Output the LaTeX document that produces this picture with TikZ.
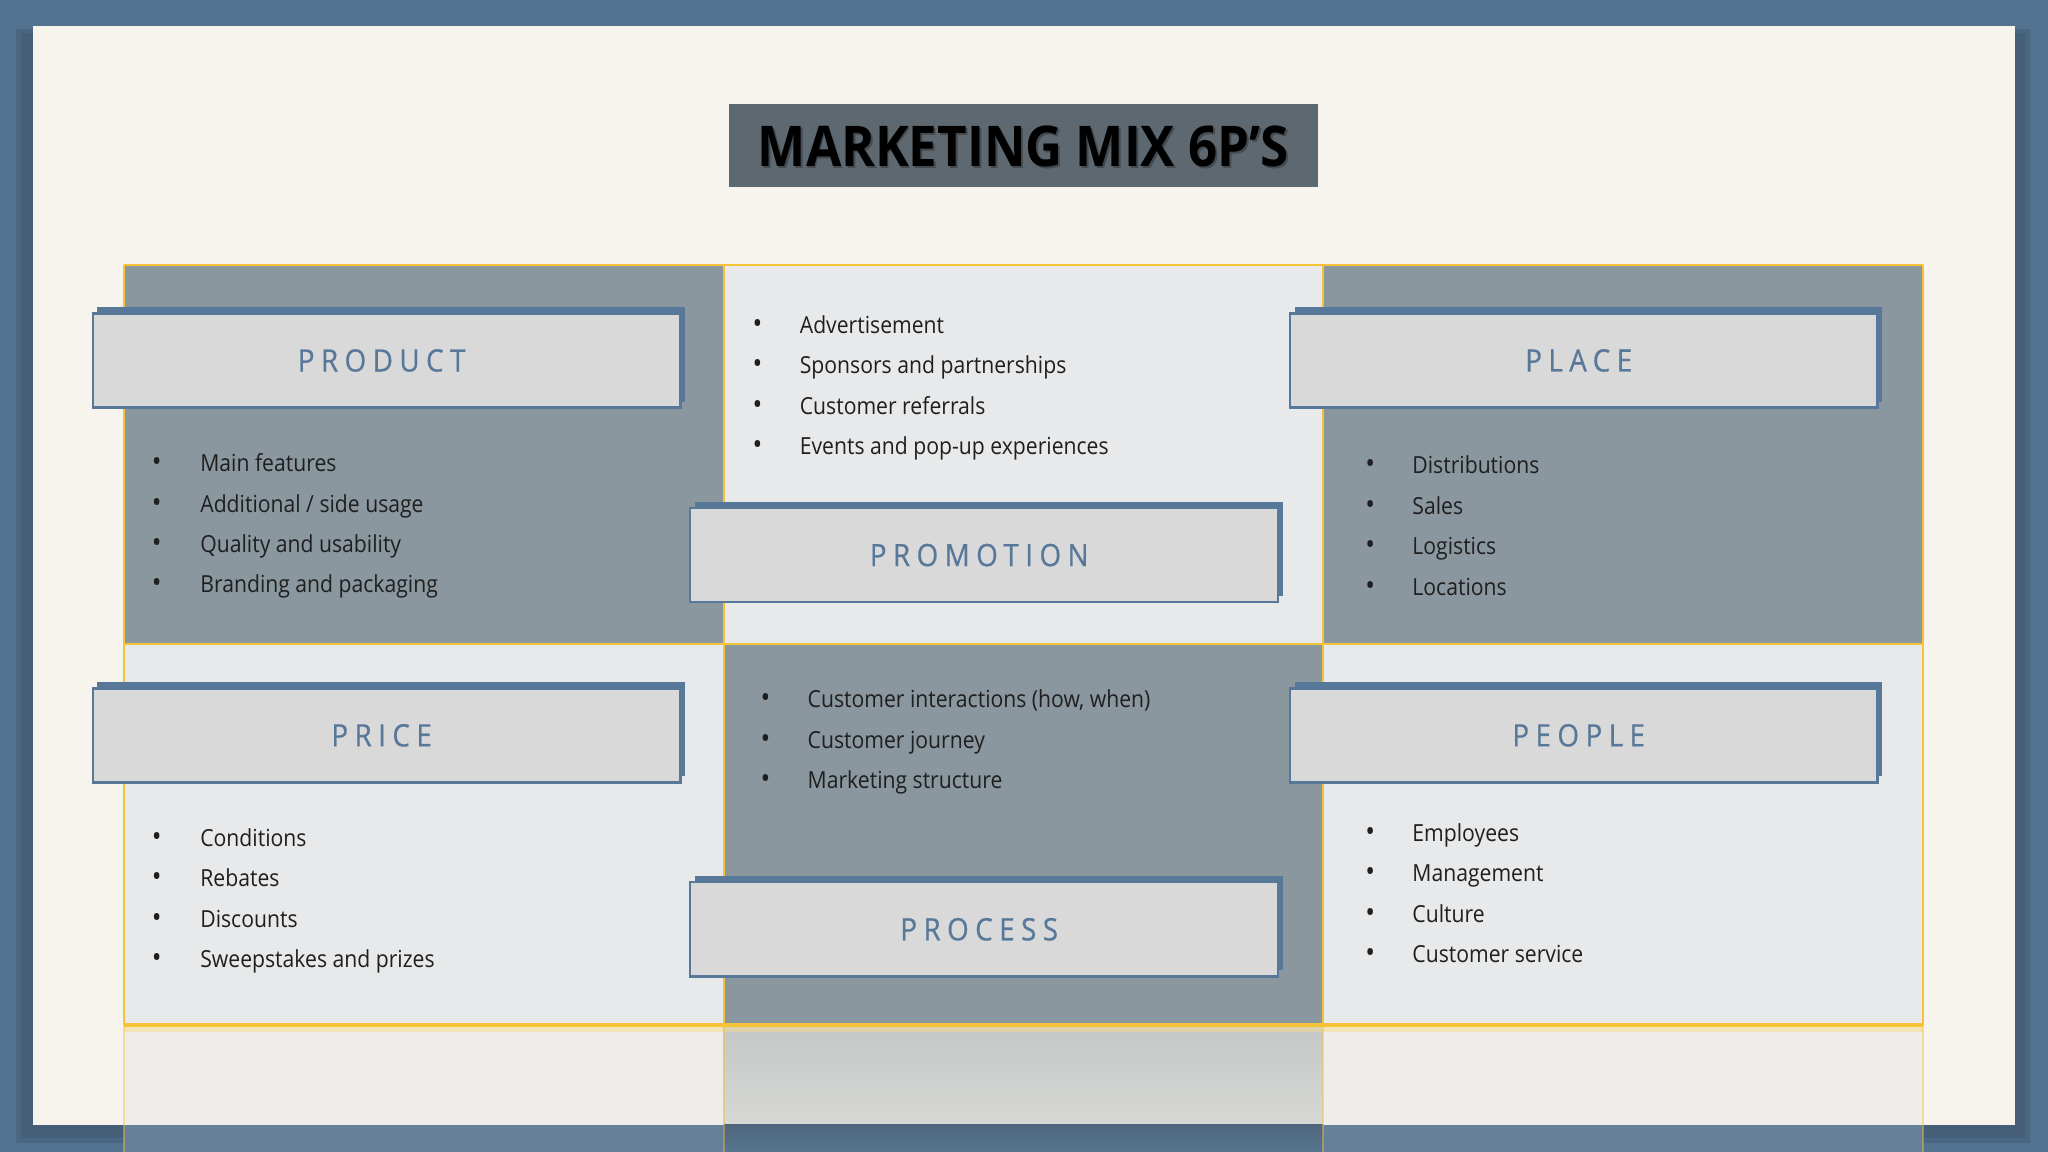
\documentclass[tikz,border=0pt]{standalone}
\usepackage{fontspec}
\setmainfont{Open Sans}
\newfontfamily\bodyfont[FakeStretch=0.9]{Open Sans}
\newfontfamily\labelfont[FakeStretch=0.9,LetterSpace=21,FakeBold=0.6]{Open Sans}
\newfontfamily\titlefont[FakeStretch=0.91]{Open Sans}
\usetikzlibrary{shadows}
\definecolor{bgblue}{HTML}{52728F}
\definecolor{shadowc}{HTML}{455F78}
\definecolor{slidec}{HTML}{F7F4EE}
\definecolor{darkcell}{HTML}{8A979E}
\definecolor{lightcell}{HTML}{E8E9EA}
\definecolor{gridyellow}{HTML}{F5C238}
\definecolor{boxfill}{HTML}{D9D9D9}
\definecolor{boxblue}{HTML}{587899}
\definecolor{labeltext}{HTML}{58789A}
\definecolor{titlegray}{HTML}{5D6870}
\definecolor{itemtext}{HTML}{1F1F1F}
\definecolor{botlight}{HTML}{EEEDE9}
\definecolor{refllight}{HTML}{66809A}
\definecolor{midtop}{HTML}{C3C7C7}
\definecolor{midbot}{HTML}{D7D8D5}
\definecolor{refltop}{HTML}{4D667D}
\definecolor{reflbot}{HTML}{587690}
\newcommand\lbltxt[1]{\hspace*{0pt}#1\hspace*{3.8pt}}
\tikzset{
  labelbox/.style={rectangle, minimum width=225pt, minimum height=36pt, inner sep=0pt,
    fill=boxfill, draw=boxblue, line width=0.9pt,
    general shadow={fill=boxblue, shadow xshift=1.8pt, shadow yshift=2.3pt},
    text=labeltext, font=\labelfont\fontsize{11.8}{14}\selectfont},
  itm/.style={anchor=base west, inner sep=0pt, text=itemtext, font=\bodyfont\fontsize{9}{11}\selectfont},
  bul/.style={anchor=base, inner sep=0pt, text=itemtext, font=\bodyfont\fontsize{11}{11}\selectfont},
  gridline/.style={draw=gridyellow, line width=0.75pt},
}
\begin{document}
\begin{tikzpicture}[x=0.5pt, y=-0.5pt]
\useasboundingbox (0,0) rectangle (1568,882);
% background and slide
\fill[bgblue] (0,0) rectangle (1568,882);
\fill[shadowc!60!bgblue] (12,22) rectangle (1554,875);
\fill[shadowc] (16,25) rectangle (1550,871);
\fill[slidec] (25,20) rectangle (1543,861);
% table cells
\fill[darkcell] (95,203) rectangle (554,493);
\fill[lightcell] (554,203) rectangle (1013,493);
\fill[darkcell] (1013,203) rectangle (1472,493);
\fill[lightcell] (95,493) rectangle (554,785);
\fill[darkcell] (554,493) rectangle (1013,785);
\fill[lightcell] (1013,493) rectangle (1472,785);
\fill[botlight] (95,785) rectangle (554,861);
\shade[top color=midtop, bottom color=midbot] (554,785) rectangle (1013,861);
\fill[botlight] (1013,785) rectangle (1472,861);
\fill[refllight] (95,861) rectangle (554,882);
\shade[top color=refltop, bottom color=reflbot] (554,861) rectangle (1013,882);
\fill[refllight] (1013,861) rectangle (1472,882);
% grid lines
\draw[gridline] (95,203) -- (1472,203);
\draw[gridline] (95,493) -- (1472,493);
\draw[gridline, line width=1.4pt] (95,785) -- (1472,785);
\draw[gridyellow!60!white, line width=2pt, opacity=0.5] (95,788) -- (1472,788);
\foreach \xx in {95,554,1013,1472} {
  \draw[gridline] (\xx,203) -- (\xx,785);
  \draw[gridline, opacity=0.45] (\xx,785) -- (\xx,882);
}
% title
\node[rectangle, fill=titlegray, minimum width=225.5pt, minimum height=31.5pt, inner sep=0pt] (title) at (783.5,111.5) {};
\node[font=\titlefont\bfseries\fontsize{21.5}{26}\selectfont, text=black!70!titlegray, opacity=0.4, inner sep=0pt] (titleshadow) at (785,113.5) {MARKETING MIX 6P’S};
\node[font=\titlefont\bfseries\fontsize{21.5}{26}\selectfont, text=black, inner sep=0pt] (titletext) at (783.5,112) {MARKETING MIX 6P’S};
% label boxes
\node[labelbox] (product) at (296,276) {\lbltxt{PRODUCT}};
\node[labelbox] (place) at (1212.5,276) {\lbltxt{PLACE}};
\node[labelbox] (promotion) at (753.5,425) {\lbltxt{PROMOTION}};
\node[labelbox] (price) at (296,563) {\lbltxt{PRICE}};
\node[labelbox] (people) at (1212.5,563) {\lbltxt{PEOPLE}};
\node[labelbox] (process) at (753.5,711.5) {\lbltxt{PROCESS}};
% lists
\foreach \t [count=\i] in {Main features, Additional / side usage, Quality and usability, Branding and packaging} {
  \node[bul] (prodb\i) at (120,{330+31*\i}) {•};
  \node[itm] (prodt\i) at (153,{330+31*\i}) {\t};
}
\foreach \t [count=\i] in {Advertisement, Sponsors and partnerships, Customer referrals, Events and pop-up experiences} {
  \node[bul] (promb\i) at (580,{224+31*\i}) {•};
  \node[itm] (promt\i) at (612,{224+31*\i}) {\t};
}
\foreach \t [count=\i] in {Distributions, Sales, Logistics, Locations} {
  \node[bul] (placb\i) at (1049,{331+31.3*\i}) {•};
  \node[itm] (plact\i) at (1081,{331+31.3*\i}) {\t};
}
\foreach \t [count=\i] in {Conditions, Rebates, Discounts, Sweepstakes and prizes} {
  \node[bul] (prib\i) at (120,{617+31*\i}) {•};
  \node[itm] (prit\i) at (153,{617+31*\i}) {\t};
}
\foreach \t [count=\i] in {{Customer interactions (how, when)}, Customer journey, Marketing structure} {
  \node[bul] (procb\i) at (586,{511+31*\i}) {•};
  \node[itm] (proct\i) at (618,{511+31*\i}) {\t};
}
\foreach \t [count=\i] in {Employees, Management, Culture, Customer service} {
  \node[bul] (peob\i) at (1049,{613+31*\i}) {•};
  \node[itm] (peot\i) at (1081,{613+31*\i}) {\t};
}
\end{tikzpicture}
\end{document}
